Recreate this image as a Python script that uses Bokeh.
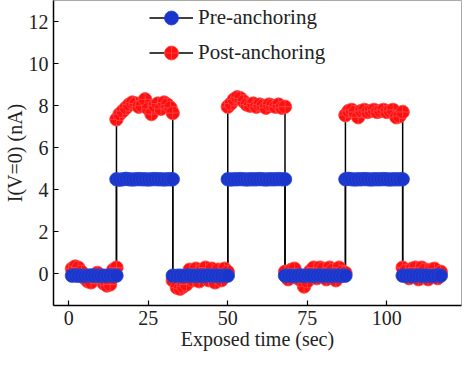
from bokeh.plotting import figure
from bokeh.models import Range1d, Legend, LegendItem, FixedTicker
from bokeh.embed import file_html
from bokeh.resources import INLINE

# sampling times per segment (sec)
t_low_a = [1, 2, 3, 4, 5, 6, 7, 8, 9, 10, 11, 12, 13, 14, 15]
t_high_a = [15, 16, 17, 18, 19, 20, 21, 22, 23, 24, 25, 26, 27, 28, 29, 30, 31, 32, 32.7]
t_low_b = [32.7, 34, 35, 36, 37, 38, 39, 40, 41, 42, 43, 44, 45, 46, 47, 48, 49, 50]
t_high_b = [50, 51, 52, 53, 54, 55, 56, 57, 58, 59, 60, 61, 62, 63, 64, 65, 66, 67, 68]
t_low_c = [68, 69, 70, 71, 72, 73, 74, 75, 76, 77, 78, 79, 80, 81, 82, 83, 84, 85, 86, 87]
t_high_c = [87, 88, 89, 90, 91, 92, 93, 94, 95, 96, 97, 98, 99, 100, 101, 102, 103, 104, 105]
t_low_d = [105, 106, 107, 108, 109, 110, 111, 112, 113, 114, 115, 116, 117]

# Post-anchoring current (nA)
post_low_a = [0.25, 0.35, 0.3, 0.1, -0.2, -0.35, -0.4, -0.15, 0.05, -0.1, -0.45, -0.55, -0.5, 0.2, 0.3]
post_high_a = [7.35, 7.6, 7.75, 7.9, 8.05, 8.15, 8.1, 7.95, 8.0, 8.3, 7.85, 7.6, 8.0, 8.1, 7.85, 8.15, 8.05, 7.9, 7.65]
post_low_b = [-0.3, -0.65, -0.7, -0.6, -0.5, 0.2, -0.3, 0.25, -0.35, 0.2, 0.3, -0.3, 0.25, -0.4, 0.2, -0.3, 0.25, 0.1]
post_high_b = [7.95, 8.1, 8.3, 8.4, 8.35, 8.2, 8.05, 8.0, 8.1, 7.95, 8.05, 8.0, 7.9, 8.05, 8.0, 7.95, 8.05, 7.9, 7.95]
post_low_c = [0.1, -0.25, 0.2, 0.25, -0.2, -0.3, -0.6, -0.35, 0.15, 0.3, -0.2, 0.3, 0.25, -0.25, 0.3, 0.2, -0.3, 0.3, 0.1, 0.05]
post_high_c = [7.55, 7.75, 7.8, 7.7, 7.45, 7.75, 7.8, 7.7, 7.75, 7.8, 7.7, 7.75, 7.8, 7.7, 7.75, 7.8, 7.45, 7.5, 7.7]
post_low_d = [0.3, 0.15, -0.2, 0.25, 0.3, -0.25, 0.3, 0.2, -0.25, 0.2, 0.25, -0.2, 0.1]

# Pre-anchoring current (nA)
pre_low_a = [-0.08, -0.07, -0.09, -0.08, -0.1, -0.08, -0.07, -0.09, -0.08, -0.1, -0.08, -0.09, -0.07, -0.08, -0.08]
pre_high_a = [4.5, 4.48, 4.5, 4.52, 4.5, 4.49, 4.5, 4.51, 4.5, 4.5, 4.49, 4.5, 4.51, 4.5, 4.5, 4.49, 4.5, 4.5, 4.5]
pre_low_b = [-0.08, -0.09, -0.08, -0.1, -0.08, -0.07, -0.09, -0.08, -0.08, -0.1, -0.08, -0.07, -0.09, -0.08, -0.08, -0.09, -0.08, -0.08]
pre_high_b = [4.5, 4.49, 4.5, 4.5, 4.51, 4.5, 4.49, 4.5, 4.5, 4.5, 4.51, 4.5, 4.49, 4.5, 4.5, 4.5, 4.51, 4.5, 4.5]
pre_low_c = [-0.08, -0.09, -0.08, -0.1, -0.08, -0.07, -0.09, -0.08, -0.08, -0.1, -0.08, -0.07, -0.09, -0.08, -0.08, -0.09, -0.08, -0.08, -0.09, -0.08]
pre_high_c = [4.5, 4.52, 4.5, 4.49, 4.5, 4.5, 4.51, 4.5, 4.49, 4.5, 4.5, 4.5, 4.51, 4.5, 4.49, 4.5, 4.5, 4.5, 4.5]
pre_low_d = [-0.08, -0.09, -0.08, -0.1, -0.08, -0.07, -0.09, -0.08, -0.08, -0.1, -0.08, -0.07, -0.08]

x_ticks = [0, 25, 50, 75, 100]
y_ticks = [0, 2, 4, 6, 8, 10, 12]

t = t_low_a + t_high_a + t_low_b + t_high_b + t_low_c + t_high_c + t_low_d
post = post_low_a + post_high_a + post_low_b + post_high_b + post_low_c + post_high_c + post_low_d
pre = pre_low_a + pre_high_a + pre_low_b + pre_high_b + pre_low_c + pre_high_c + pre_low_d

FONT = "Liberation Serif"
FH = 305
FW = 408

p = figure(frame_width=FW, frame_height=FH, output_backend="svg", toolbar_location=None,
           x_range=Range1d(-4.8, 123.5), y_range=Range1d(-1.5, 13),
           min_border_left=0, min_border_right=2, min_border_top=0, min_border_bottom=0)
p.xgrid.visible = False
p.ygrid.visible = False
p.outline_line_color = "#aaaaaa"
p.outline_line_width = 1

line_post = p.line(t, post, line_color="black", line_width=1.5)
line_pre = p.line(t, pre, line_color="black", line_width=1.5)
sc_post = p.scatter(t, post, marker="circle_cross", size=13.5, fill_color="#ff1010",
                    line_color="#ff4a4a", line_width=0.8)
sc_pre = p.scatter(t, pre, marker="circle", size=13.5, fill_color="#1a35cc",
                   line_color="#2a45d0", line_width=0.8)

for ax in (p.xaxis[0], p.yaxis[0]):
    ax.axis_line_color = "black"
    ax.axis_line_width = 1.5
    ax.major_tick_line_color = "black"
    ax.major_tick_line_width = 1.2
    ax.major_tick_in = 5
    ax.major_tick_out = 0
    ax.minor_tick_line_color = None
    ax.major_label_text_font = FONT
    ax.major_label_text_font_size = "20px"
    ax.major_label_text_color = "#222222"
    ax.axis_label_text_font = FONT
    ax.axis_label_text_font_size = "20px"
    ax.axis_label_text_font_style = "normal"
    ax.axis_label_text_color = "#222222"

p.xaxis.ticker = FixedTicker(ticks=x_ticks)
p.yaxis.ticker = FixedTicker(ticks=y_ticks)
p.xaxis.axis_label = "Exposed time (sec)"
p.yaxis.axis_label = "I(V=0) (nA)"
p.xaxis.major_label_standoff = 5
p.xaxis.axis_label_standoff = 0
p.yaxis.major_label_standoff = 5
p.yaxis.axis_label_standoff = 0

legend = Legend(items=[
    LegendItem(label="Pre-anchoring", renderers=[line_pre, sc_pre]),
    LegendItem(label="Post-anchoring", renderers=[line_post, sc_post]),
], location=(96, FH - 70))
legend.margin = 0
legend.padding = 0
legend.spacing = 0
legend.glyph_width = 44
legend.glyph_height = 35
legend.label_height = 35
legend.label_standoff = 5
legend.label_text_font = FONT
legend.label_text_font_size = "21px"
legend.label_text_color = "#222222"
legend.border_line_color = None
legend.background_fill_alpha = 0
p.add_layout(legend)

open("out.html", "w").write(file_html(p, INLINE))
